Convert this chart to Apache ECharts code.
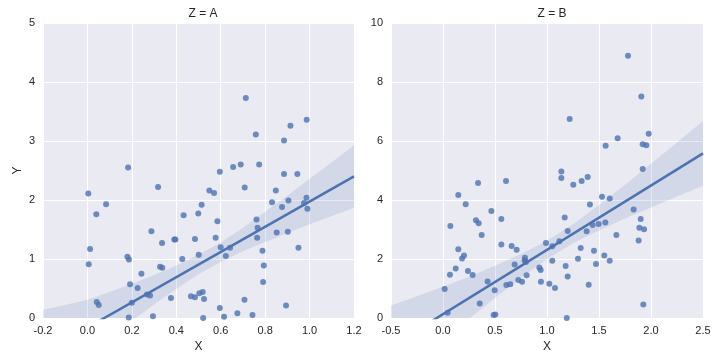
<!DOCTYPE html>
<html>
<head>
<meta charset="utf-8">
<script src="https://cdn.jsdelivr.net/npm/echarts@6/dist/echarts.min.js"></script>
<style>html,body{margin:0;padding:0;background:#fff}#c{width:720px;height:360px}</style>
</head>
<body>
<div id="c"></div>
<script>
// ---- Facet titles and tick labels ----
const facetTitles = ['Z = A', 'Z = B'];
const xTicksA = [-0.2, 0.0, 0.2, 0.4, 0.6, 0.8, 1.0, 1.2];
const yTicksA = [0, 1, 2, 3, 4, 5];
const xTicksB = [-0.5, 0.0, 0.5, 1.0, 1.5, 2.0, 2.5];
const yTicksB = [0, 2, 4, 6, 8, 10];

// ---- Scatter points, facet A ----
const xA = [0.004,0.084,0.040,0.012,0.006,0.042,0.051,0.183,0.180,0.187,0.192,0.200,0.186,0.226,0.243,0.268,0.282,0.288,0.295,0.318,
            0.327,0.337,0.336,0.391,0.396,0.376,0.427,0.433,0.466,0.484,0.484,0.499,0.501,0.504,0.519,0.525,0.514,0.521,0.549,0.570,
            0.585,0.577,0.596,0.600,0.596,0.615,0.623,0.642,0.656,0.675,0.690,0.707,0.708,0.713,0.743,0.758,0.761,0.766,0.764,0.773,
            0.788,0.794,0.791,0.831,0.848,0.852,0.876,0.885,0.885,0.894,0.902,0.905,0.914,0.945,0.950,0.975,0.986,0.987,0.990];
const yA = [2.11,1.93,1.76,1.17,0.91,0.27,0.22,2.55,1.04,0.99,0.57,0.26,0.01,0.51,0.75,0.40,0.38,1.47,0.03,2.22,
            0.87,0.85,1.27,1.33,1.33,0.34,1.00,1.74,0.37,0.35,1.34,1.77,1.07,0.42,0.44,0.32,1.92,0.00,2.16,2.12,
            1.64,1.36,2.48,1.20,0.17,0.02,1.05,1.19,2.56,0.08,2.60,0.31,2.21,3.73,0.05,3.11,1.67,1.53,1.36,2.60,
            1.14,0.89,0.61,1.96,2.16,1.45,1.88,3.01,2.44,0.21,1.46,1.99,3.26,2.44,1.19,1.95,2.04,3.36,1.85];

// ---- Scatter points, facet B ----
const xB = [0.016,0.045,0.067,0.071,0.122,0.147,0.147,0.183,0.202,0.218,0.240,0.285,0.317,0.343,0.337,0.353,0.372,0.429,0.465,0.487,
            0.503,0.497,0.561,0.561,0.606,0.609,0.647,0.660,0.689,0.708,0.724,0.760,0.788,0.785,0.798,0.804,0.926,0.939,0.942,0.990,
            1.022,1.051,1.051,1.077,1.119,1.138,1.138,1.170,1.179,1.190,1.199,1.199,1.218,1.253,1.298,1.324,1.333,1.381,1.391,1.401,
            1.413,1.439,1.452,1.471,1.497,1.529,1.551,1.561,1.564,1.603,1.603,1.667,1.679,1.779,1.833,1.881,1.888,1.901,1.907,1.920,
            1.920,1.926,1.933,1.955,1.978];
const yB = [0.98,0.18,1.47,3.12,1.68,4.17,2.33,2.02,2.12,3.86,1.59,1.46,3.31,3.21,4.58,0.49,2.81,1.24,3.63,0.10,
            0.12,0.94,3.36,2.49,4.64,1.12,1.14,2.44,1.81,2.31,1.29,1.23,2.04,1.95,1.90,1.45,1.71,1.63,1.23,2.54,
            1.16,2.43,1.94,1.02,2.60,4.97,4.75,3.41,1.76,0.00,2.95,1.41,6.75,4.52,2.01,2.37,4.64,2.94,4.78,1.13,
            3.85,3.15,2.28,1.83,3.19,4.11,2.12,3.24,5.84,4.05,1.94,2.81,6.09,8.89,3.68,2.63,3.06,3.36,7.51,5.89,
            5.05,0.46,3.01,5.86,6.25];

// ---- Regression lines (end points) ----
const fitXA = [-0.2, 1.2];
const fitYA = [-0.59, 2.40];
const fitXB = [-0.5, 2.5];
const fitYB = [-0.96, 5.58];

// ---- Confidence bands ----
const bandXA = [-0.2,-0.1,0.0,0.1,0.2,0.3,0.4,0.5,0.6,0.7,0.8,0.9,1.0,1.1,1.2];
const bandLoA = [-1.25,-0.90,-0.62,-0.33,-0.05,0.23,0.49,0.74,0.95,1.13,1.29,1.44,1.59,1.73,1.87];
const bandHiA = [0.14,0.22,0.31,0.44,0.58,0.73,0.89,1.07,1.28,1.53,1.80,2.07,2.36,2.64,2.93];
const bandXB = [-0.5,-0.25,0.0,0.25,0.5,0.75,1.0,1.25,1.5,1.75,2.0,2.25,2.5];
const bandLoB = [-2.21,-1.48,-0.75,-0.03,0.68,1.37,2.00,2.53,2.97,3.37,3.75,4.12,4.48];
const bandHiB = [0.42,0.74,1.06,1.40,1.77,2.17,2.62,3.18,3.83,4.52,5.23,5.95,6.68];

const BLUE = '#4C72B0';
const TXT = '#262626';
const FONT = 'Liberation Sans, Arial, sans-serif';

function zip(a, b) { return a.map((v, i) => [v, b[i]]); }

function bandSeries(idx, bx, lo, hi) {
  return {
    type: 'custom',
    xAxisIndex: idx, yAxisIndex: idx,
    clip: true,
    silent: true,
    z: 1,
    data: bx.map((x, i) => [x, lo[i], hi[i]]),
    renderItem: function (params, api) {
      if (params.dataIndex !== 0) return null;
      const pts = [];
      for (let i = 0; i < bx.length; i++) pts.push(api.coord([bx[i], hi[i]]));
      for (let i = bx.length - 1; i >= 0; i--) pts.push(api.coord([bx[i], lo[i]]));
      const cs = params.coordSys;
      return {
        type: 'group',
        children: [{
          type: 'polygon',
          shape: { points: pts },
          style: { fill: BLUE, opacity: 0.15 }
        }],
        clipPath: { type: 'rect', shape: { x: cs.x, y: cs.y, width: cs.width, height: cs.height } }
      };
    }
  };
}

function fmt1(v) { return (Math.round(v * 10) / 10).toFixed(1); }

function xAxisDef(idx, ticks) {
  const step = ticks[1] - ticks[0];
  return {
    type: 'value', gridIndex: idx,
    min: ticks[0], max: ticks[ticks.length - 1], interval: step,
    name: 'X', nameLocation: 'middle', nameGap: 17,
    nameTextStyle: { color: TXT, fontSize: 12, fontFamily: FONT },
    axisLine: { show: false }, axisTick: { show: false },
    axisLabel: { color: TXT, fontSize: 11, fontFamily: FONT, margin: 7, formatter: fmt1 },
    splitLine: { show: true, lineStyle: { color: '#ffffff', width: 1 } }
  };
}
function yAxisDef(idx, ticks, name) {
  const step = ticks[1] - ticks[0];
  return {
    type: 'value', gridIndex: idx,
    min: ticks[0], max: ticks[ticks.length - 1], interval: step,
    name: name, nameLocation: 'middle', nameGap: 19, nameRotate: 90,
    nameTextStyle: { color: TXT, fontSize: 12, fontFamily: FONT },
    axisLine: { show: false }, axisTick: { show: false },
    axisLabel: { color: TXT, fontSize: 11, fontFamily: FONT, margin: 8 },
    splitLine: { show: true, lineStyle: { color: '#ffffff', width: 1 } }
  };
}

const chart = echarts.init(document.getElementById('c'), null, { renderer: 'canvas' });
chart.setOption({
  animation: false,
  backgroundColor: '#ffffff',
  title: [
    { text: facetTitles[0], left: 198, top: 3, textAlign: 'center',
      textStyle: { color: TXT, fontSize: 12, fontWeight: 'normal', fontFamily: FONT } },
    { text: facetTitles[1], left: 547, top: 3, textAlign: 'center',
      textStyle: { color: TXT, fontSize: 12, fontWeight: 'normal', fontFamily: FONT } }
  ],
  grid: [
    { left: 43, top: 23, width: 311, height: 295, show: true, backgroundColor: '#EAEAF2', borderWidth: 0 },
    { left: 391, top: 23, width: 312, height: 295, show: true, backgroundColor: '#EAEAF2', borderWidth: 0 }
  ],
  xAxis: [xAxisDef(0, xTicksA), xAxisDef(1, xTicksB)],
  yAxis: [yAxisDef(0, yTicksA, 'Y'), yAxisDef(1, yTicksB, '')],
  series: [
    bandSeries(0, bandXA, bandLoA, bandHiA),
    bandSeries(1, bandXB, bandLoB, bandHiB),
    { type: 'scatter', xAxisIndex: 0, yAxisIndex: 0, data: zip(xA, yA), symbolSize: 6, z: 2,
      itemStyle: { color: BLUE, opacity: 0.8 }, clip: false },
    { type: 'scatter', xAxisIndex: 1, yAxisIndex: 1, data: zip(xB, yB), symbolSize: 6, z: 2,
      itemStyle: { color: BLUE, opacity: 0.8 }, clip: false },
    { type: 'line', xAxisIndex: 0, yAxisIndex: 0, data: zip(fitXA, fitYA), showSymbol: false, z: 3,
      lineStyle: { color: BLUE, width: 2.5 }, clip: true },
    { type: 'line', xAxisIndex: 1, yAxisIndex: 1, data: zip(fitXB, fitYB), showSymbol: false, z: 3,
      lineStyle: { color: BLUE, width: 2.5 }, clip: true }
  ]
});
</script>
</body>
</html>
